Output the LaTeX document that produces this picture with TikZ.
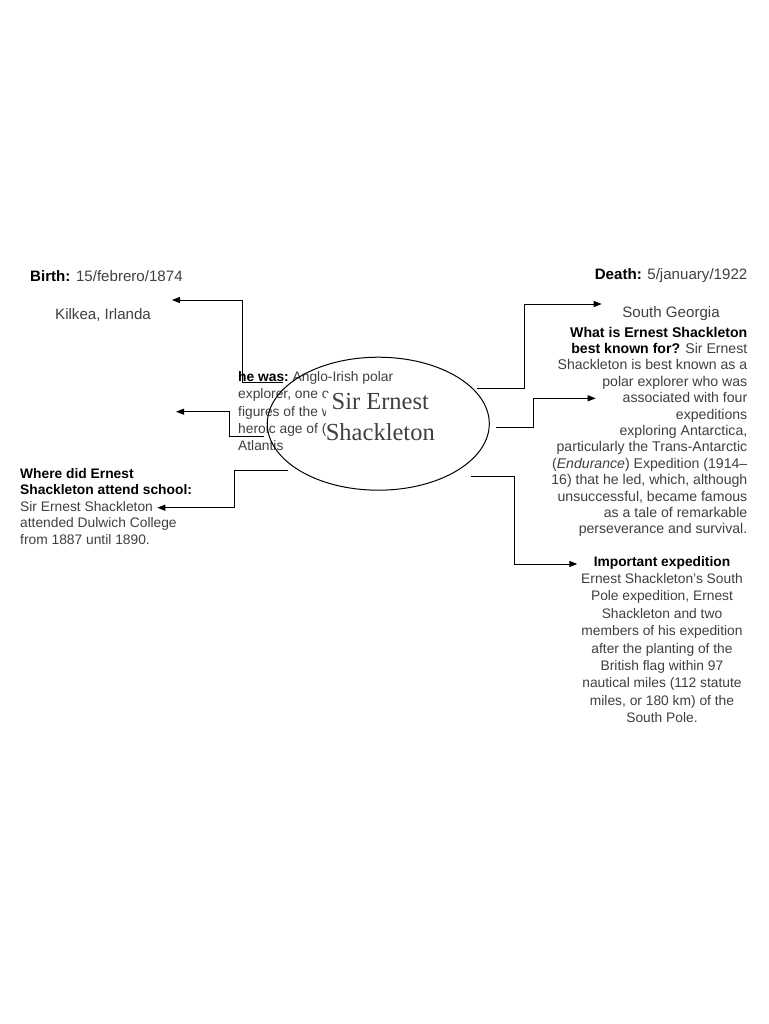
\documentclass[tikz,border=0pt]{standalone}
\usepackage{fontspec}
\setmainfont{Liberation Sans}
\newfontfamily\titleserif{Liberation Serif}
\usetikzlibrary{shapes.geometric,arrows.meta}
\definecolor{bodygray}{RGB}{64,64,64}

\begin{document}
\begin{tikzpicture}[x=1pt, y=-1pt,
    txt/.style={inner sep=0pt, text=bodygray, font=\fontsize{13.8}{16.5}\selectfont},
    big/.style={inner sep=0pt, text=bodygray, font=\fontsize{15.1}{18}\selectfont},
    link/.style={line width=1pt, -{Triangle[length=8pt,width=6pt]}}]

    \fill[white] (0,0) rectangle (768,1024);

    % Define text blocks with coordinates (base = last line)
    \node[big, anchor=base west] (birth) at (30,281) {{\color{black}\bfseries Birth:} 15/febrero/1874};
    \node[big, anchor=base west] (place) at (55,319.5) {Kilkea, Irlanda};
    \node[txt, anchor=base west, align=left] (school) at (20,544)
        {{\color{black}\bfseries Where did Ernest}\\
         {\color{black}\bfseries Shackleton attend school:}\\
         Sir Ernest Shackleton\\attended Dulwich College\\from 1887 until 1890.};
    \node[txt, anchor=base west, align=left, font=\fontsize{13.8}{17.3}\selectfont] (was) at (238,450.7)
        {{\color{black}\bfseries he was:}~Anglo-Irish polar\\explorer, one o\\figures of the w\\heroic age of (\\Atlantis};
    \node[big, anchor=base east] (death) at (747.5,279) {{\color{black}\bfseries Death:} 5/january/1922};
    \node[big, anchor=base] (grave) at (671,317.5) {South Georgia};
    \node[txt, anchor=base east, align=right, font=\fontsize{14.1}{16.4}\selectfont] (known) at (747.5,533.8)
        {{\color{black}\bfseries What is Ernest Shackleton}\\
         {\color{black}\bfseries best known for?} Sir Ernest\\
         Shackleton is best known as a\\polar explorer who was\\associated with four\\expeditions\\
         exploring Antarctica,\\particularly the Trans-Antarctic\\(\textit{Endurance}) Expedition (1914--\\
         16) that he led, which, although\\unsuccessful, became famous\\as a tale of remarkable\\
         perseverance and survival.};
    \node[txt, anchor=base, align=center, font=\fontsize{13.8}{17.4}\selectfont] (trip) at (662,722.6)
        {{\color{black}\bfseries Important expedition}\\
         Ernest Shackleton's South\\Pole expedition, Ernest\\Shackleton and two\\
         members of his expedition\\after the planting of the\\British flag within 97\\
         nautical miles (112 statute\\miles, or 180 km) of the\\South Pole.};

    % Central ellipse and its title
    \node[draw, ellipse, line width=1pt, minimum width=222pt, minimum height=133pt, inner sep=0pt] (hub) at (378.3,423.7) {};
    \node[fill=white, inner sep=0pt, anchor=base, align=center, text=bodygray,
          font=\titleserif\fontsize{24.5}{31.7}\selectfont] (title) at (380.3,440.7) {Sir Ernest\\Shackleton};

    % Free ends of the connectors
    \coordinate (b0) at (283,382.5);  \coordinate (b1) at (172,300);
    \coordinate (w0) at (264,436);    \coordinate (w1) at (176,411.7);
    \coordinate (s0) at (288,470.7);  \coordinate (s1) at (157.3,507.7);
    \coordinate (d0) at (476.7,388.3); \coordinate (d1) at (601.7,304);
    \coordinate (k0) at (496,427.7);  \coordinate (k1) at (595.7,398.3);
    \coordinate (e0) at (471,476);    \coordinate (e1) at (577.3,564);

    % Draw connectors
    \draw[link] (b0) -- ++(-41,0) |- (b1);
    \draw[link] (w0) -- ++(-35,0) |- (w1);
    \draw[link] (s0) -- ++(-53.7,0) |- (s1);
    \draw[link] (d0) -- ++(47.6,0) |- (d1);
    \draw[link] (k0) -- ++(37.3,0) |- (k1);
    \draw[link] (e0) -- ++(43,0) |- (e1);
\end{tikzpicture}
\end{document}
